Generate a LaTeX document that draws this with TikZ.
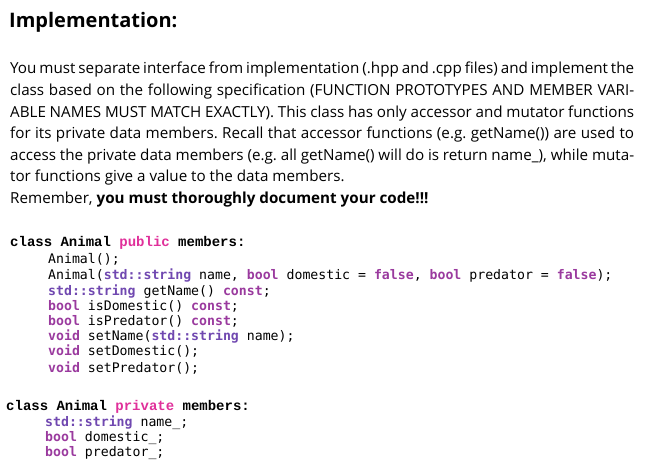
\documentclass[tikz,border=0pt]{standalone}
\usepackage{fontspec}
\setmainfont{Open Sans}
\newfontfamily\codef{DejaVu Sans Mono}
\newfontfamily\headf{Liberation Mono}
\definecolor{kw}{HTML}{9A3A9E}
\definecolor{ty}{HTML}{7048B0}
\definecolor{pub}{HTML}{E0309A}
\newcommand{\K}[1]{\textcolor{kw}{\bfseries #1}}
\newcommand{\T}[1]{\textcolor{ty}{\bfseries #1}}
\begin{document}
\frenchspacing
\begin{tikzpicture}[x=1pt,y=-1pt,
  code/.style={anchor=base west,inner sep=0,font=\codef\fontsize{13.2}{14}\selectfont},
  head/.style={anchor=base west,inner sep=0,font=\headf\bfseries\fontsize{14}{16}\selectfont}]
\useasboundingbox (0,0) rectangle (667,464);
\node[anchor=base west,inner sep=0,font=\bfseries\fontsize{20}{24}\selectfont] (title) at (9,27) {Implementation:};
\node[anchor=north west,inner sep=0,text width=624pt,align=justify,font=\fontsize{15.2}{21.6}\selectfont] (para) at (10,62)
{You must separate interface from implementation (.hpp and .cpp files) and implement the class based on the following specification (FUNCTION PROTOTYPES AND MEMBER VARIABLE NAMES MUST MATCH EXACTLY). This class has only accessor and mutator functions for its private data members. Recall that accessor functions (e.g. getName()) are used to access the private data members (e.g. all getName() will do is return name\_), while mutator functions give a value to the data members.\\ Remember, \textbf{you must thoroughly document your code!!!}};
\node[head] (h1) at (10,246) {class Animal \textcolor{pub}{public} members:};
\node[code] (p1) at (48,263) {Animal();};
\node[code] (p2) at (48,279) {Animal(\T{std::string} name, \K{bool} domestic = \K{false}, \K{bool} predator = \K{false});};
\node[code] (p3) at (48,295) {\T{std::string} getName() \K{const};};
\node[code] (p4) at (48,310) {\K{bool} isDomestic() \K{const};};
\node[code] (p5) at (48,325) {\K{bool} isPredator() \K{const};};
\node[code] (p6) at (48,340) {\K{void} setName(\T{std::string} name);};
\node[code] (p7) at (48,355) {\K{void} setDomestic();};
\node[code] (p8) at (48,372) {\K{void} setPredator();};
\node[head] (h2) at (6,410) {class Animal \textcolor{pub}{private} members:};
\node[code] (q1) at (45,426) {\T{std::string} name\_;};
\node[code] (q2) at (45,441) {\K{bool} domestic\_;};
\node[code] (q3) at (45,456) {\K{bool} predator\_;};
\end{tikzpicture}
\end{document}
